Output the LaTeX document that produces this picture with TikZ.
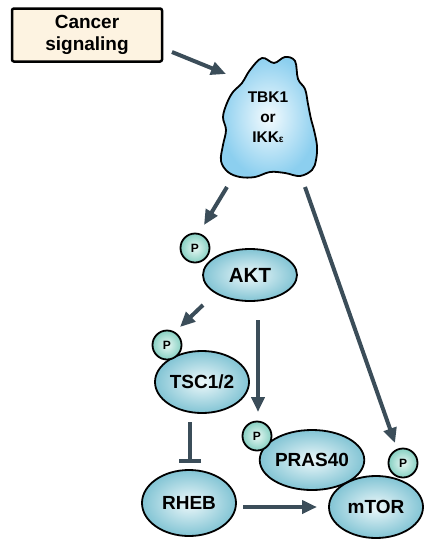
\documentclass[tikz,border=0pt]{standalone}
\usepackage{fontspec}
\setmainfont{Liberation Sans}
\usetikzlibrary{shapes.geometric,arrows.meta,calc}
\definecolor{arrc}{HTML}{3B4D59}
\definecolor{protin}{HTML}{EDF8FA}
\definecolor{protout}{HTML}{82C4D4}
\definecolor{phin}{HTML}{E8F8F4}
\definecolor{phout}{HTML}{86D0C2}
\definecolor{blobin}{HTML}{F4FBFE}
\definecolor{blobout}{HTML}{8CCFEF}
\definecolor{cream}{HTML}{FDF3E1}
\begin{document}
\begin{tikzpicture}[x=1pt,y=-1pt,
  arr/.style={draw=arrc, line width=4pt, -{Triangle[length=15pt,width=13pt]}},
  inh/.style={draw=arrc, line width=4pt, -{Bar[width=22pt]}},
  prot/.style={ellipse, draw=black, line width=1.8pt, inner color=protin, outer color=protout,
    minimum width=94pt, inner sep=0pt, font=\fontsize{19}{22}\selectfont\bfseries},
  phos/.style={circle, draw=black, line width=1.8pt, inner color=phin, outer color=phout,
    minimum size=29pt, inner sep=0pt, font=\fontsize{12}{14}\selectfont\bfseries},
  sigbox/.style={draw=black, line width=2.5pt, fill=cream, rounded corners=2pt,
    minimum width=150pt, minimum height=53pt, align=center, inner sep=0pt,
    font=\fontsize{19}{22}\selectfont\bfseries}]
\useasboundingbox (0,0) rectangle (432,550);

% Cancer signaling box
\node[sigbox] (cancer) at (87,35) {Cancer\\signaling};

% TBK1 blob
\draw[line width=1.8pt, inner color=blobin, outer color=blobout]
  plot[smooth cycle, tension=0.6] coordinates {
  (262,58) (274,63) (285,57) (295,61) (298,79) (305,89) (308,104) (311,119)
  (314,130) (317,146) (316,160) (312,170) (300,176) (285,173) (270,172)
  (255,177) (240,177) (228,172) (221,161) (223,145) (226,130) (223,117)
  (227,103) (233,92) (242,83) (250,70)};
\node[font=\fontsize{15.5}{20}\selectfont\bfseries, align=center] (tbk) at (268,117)
  {TBK1\\or\\IKK{\fontsize{10}{10}\selectfont ε}};

% proteins
\node[prot, minimum height=52pt, font=\fontsize{20.5}{22}\selectfont\bfseries] (akt) at (250,275) {AKT};
\node[prot, minimum height=62pt] (tsc) at (202,382) {TSC1/2};
\node[prot, minimum height=66pt] (rheb) at (189,503) {RHEB};
\node[prot, minimum width=96pt, minimum height=60pt] (pras) at (312,460) {PRAS40};
\node[prot, minimum height=62pt] (mtor) at (376,507) {mTOR};

% phosphates
\node[phos] (pakt) at (195,248) {P};
\node[phos] (ptsc) at (167,345) {P};
\node[phos] (ppras) at (257,436) {P};
\node[phos] (pmtor) at (403,463) {P};

% connectors
\draw[arr] ([shift={(85,17)}]cancer.center) -- ([shift={(-42,-43)}]tbk.center);
\draw[arr] ([shift={(-41,70)}]tbk.center) -- ([shift={(-46,-50)}]akt.center);
\draw[arr] ([shift={(37,70)}]tbk.center) -- ([shift={(19,-64)}]mtor.center);
\draw[arr] ([shift={(-47,30)}]akt.center) -- ([shift={(-22,-55)}]tsc.center);
\draw[arr] ([shift={(8,45)}]akt.center) -- ([shift={(-54,-48)}]pras.center);
\draw[inh] ([shift={(-12,40)}]tsc.center) -- ([shift={(1,-40)}]rheb.center);
\draw[arr] ([shift={(54,4)}]rheb.center) -- ([shift={(-59,0)}]mtor.center);
\end{tikzpicture}
\end{document}
